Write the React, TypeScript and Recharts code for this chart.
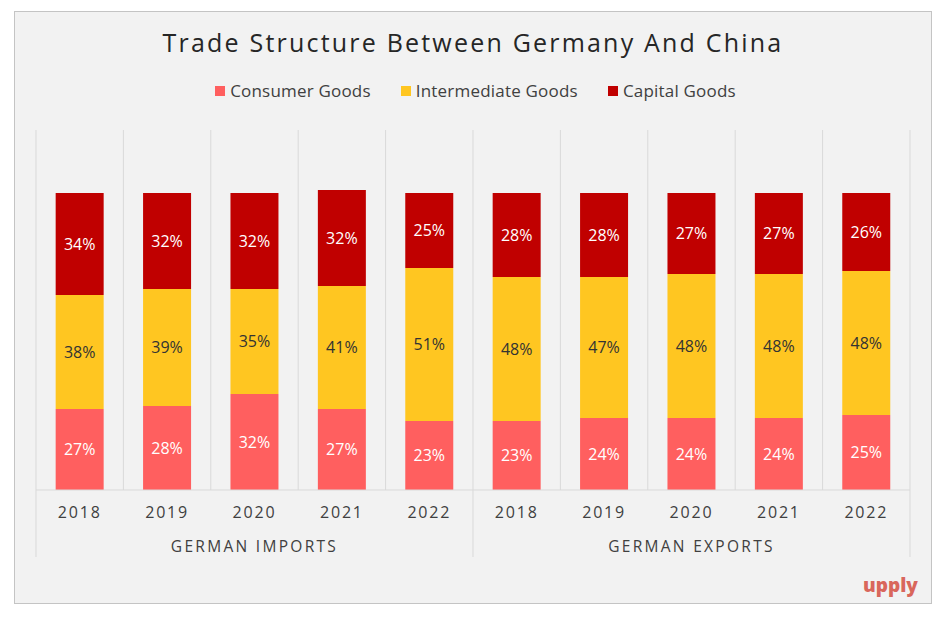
import { Bar, BarChart, CartesianGrid, LabelList, XAxis, YAxis } from "recharts";

const years = ["2018", "2019", "2020", "2021", "2022", "2018", "2019", "2020", "2021", "2022"];
const groups = ["GERMAN IMPORTS", "GERMAN IMPORTS", "GERMAN IMPORTS", "GERMAN IMPORTS", "GERMAN IMPORTS",
  "GERMAN EXPORTS", "GERMAN EXPORTS", "GERMAN EXPORTS", "GERMAN EXPORTS", "GERMAN EXPORTS"];
const consumerGoods = [27, 28, 32, 27, 23, 23, 24, 24, 24, 25];
const intermediateGoods = [38, 39, 35, 41, 51, 48, 47, 48, 48, 48];
const capitalGoods = [34, 32, 32, 32, 25, 28, 28, 27, 27, 26];

const seriesInfo = [
  { key: "consumer", name: "Consumer Goods", color: "#FF5F5F", label: "#ffffff" },
  { key: "intermediate", name: "Intermediate Goods", color: "#FFC621", label: "#333333" },
  { key: "capital", name: "Capital Goods", color: "#C00000", label: "#ffffff" },
];

const data = years.map((year, i) => ({
  year,
  group: groups[i],
  consumer: consumerGoods[i],
  intermediate: intermediateGoods[i],
  capital: capitalGoods[i],
}));

const FONT = "'Open Sans', 'Noto Sans', sans-serif";
const W = 951;
const H = 618;
const AXIS_H = 30;
const M = { top: 130, right: 41, bottom: 128 - AXIS_H, left: 36 };
const BASE_Y = 490;
const BAND = (W - M.left - M.right) / years.length;

function YearTick(props: any) {
  const { x, payload, index } = props;
  const half = payload?.offset || BAND / 2;
  const isFirst = index % 5 === 0;
  const isLast = index === years.length - 1;
  return (
    <g>
      <text
        x={x}
        y={BASE_Y + 28}
        textAnchor="middle"
        fill="#404040"
        fontSize={16}
        letterSpacing={1.8}
        fontFamily={FONT}
      >
        {payload.value}
      </text>
      {index % 5 === 2 && (
        <text
          x={x}
          y={BASE_Y + 62}
          textAnchor="middle"
          fill="#404040"
          fontSize={15.5}
          letterSpacing={2.3}
          fontFamily={FONT}
        >
          {groups[index]}
        </text>
      )}
      {isFirst && <line x1={x - half} x2={x - half} y1={BASE_Y} y2={BASE_Y + 67} stroke="#d9d9d9" />}
      {isLast && <line x1={x + half} x2={x + half} y1={BASE_Y} y2={BASE_Y + 67} stroke="#d9d9d9" />}
    </g>
  );
}

function ChartLegend() {
  return (
    <div
      style={{
        position: "absolute",
        left: 0,
        top: 79,
        width: W,
        display: "flex",
        justifyContent: "center",
        gap: 30,
        fontFamily: FONT,
        fontSize: 17,
        color: "#404040",
      }}
    >
      {seriesInfo.map((s) => (
        <div key={s.key} style={{ display: "flex", alignItems: "center" }}>
          <span style={{ display: "inline-block", width: 10, height: 10, background: s.color, marginRight: 5 }} />
          <span style={{ letterSpacing: 0.2 }}>{s.name}</span>
        </div>
      ))}
    </div>
  );
}

export default function App() {
  return (
    <div style={{ position: "absolute", left: 0, top: 0, width: W, height: H, background: "#ffffff" }}>
      <div
        style={{
          position: "absolute",
          left: 14,
          top: 11,
          width: 918,
          height: 593,
          boxSizing: "border-box",
          border: "1px solid #c4c4c4",
          background: "#f2f2f2",
        }}
      />
      <div
        style={{
          position: "absolute",
          left: 14,
          top: 25,
          width: 918,
          textAlign: "center",
          fontFamily: FONT,
          fontSize: 25,
          letterSpacing: 2.2,
          color: "#262626",
        }}
      >
        Trade Structure Between Germany And China
      </div>
      <ChartLegend />
      <div style={{ position: "absolute", left: 0, top: 0 }}>
        <BarChart width={W} height={H} data={data} margin={M} barCategoryGap="22.5%">
          <CartesianGrid
            horizontal={false}
            stroke="#d9d9d9"
            verticalCoordinatesGenerator={({ offset }: any) =>
              years.map((_, i) => offset.left + (i * offset.width) / years.length).concat(offset.left + offset.width)
            }
          />
          <XAxis
            dataKey="year"
            height={AXIS_H}
            axisLine={{ stroke: "#d9d9d9" }}
            tickLine={false}
            interval={0}
            tick={<YearTick />}
          />
          <YAxis hide domain={[0, 120]} />
          {seriesInfo.map((s) => (
            <Bar key={s.key} dataKey={s.key} name={s.name} stackId="a" fill={s.color} isAnimationActive={false}>
              <LabelList
                dataKey={s.key}
                position="center"
                formatter={(v: any) => `${v}%`}
                fill={s.label}
                fontSize={16}
                fontFamily={FONT}
              />
            </Bar>
          ))}
        </BarChart>
      </div>
      <div
        style={{
          position: "absolute",
          left: 863,
          top: 572,
          fontFamily: FONT,
          fontWeight: 800,
          fontSize: 19,
          color: "#D9675C",
          letterSpacing: 0,
        }}
      >
        upply
      </div>
    </div>
  );
}
